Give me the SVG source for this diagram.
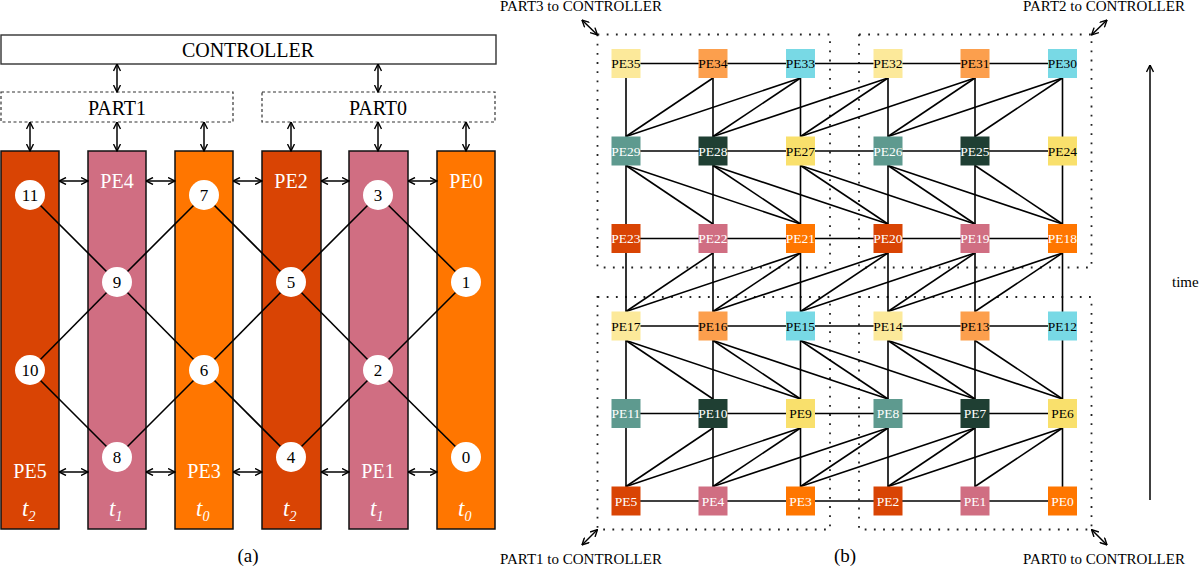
<svg xmlns="http://www.w3.org/2000/svg" width="1200" height="568" viewBox="0 0 1200 568" font-family="'Liberation Serif', 'Times New Roman', serif">
<style>
text{font-family:"Liberation Serif","Times New Roman",serif}
.ln{stroke:#000;stroke-width:1.6;fill:none}
.ar{stroke:#000;stroke-width:1.5;fill:none;marker-start:url(#ah);marker-end:url(#ah)}
.ar1{stroke:#000;stroke-width:1.5;fill:none;marker-end:url(#ah)}
.col{stroke:#111;stroke-width:1.5}
.c0{fill:#D94404}.c1{fill:#D06E82}.c2{fill:#FF7600}
.pa{fill:#FCE99A}.lo{fill:#FC9F4D}.cy{fill:#78D9E5}
.te{fill:#5E9A8F}.dg{fill:#1F3F33}.ye{fill:#F9E06C}
.rd{fill:#D94404}.pk{fill:#D06E82}.og{fill:#FF7600}
.nt{font-size:13.5px;text-anchor:middle}
.tb{fill:#000}.tw{fill:#fff}
.big{font-size:20px;text-anchor:middle}
.num{font-size:17px;text-anchor:middle;fill:#000}
.tl{font-size:23px;font-style:italic;fill:#fff}
.ts{font-size:14px;font-style:italic;fill:#fff}
.lab{font-size:15px;fill:#000}
.cap{font-size:19px;fill:#000;text-anchor:middle}
.part{fill:none;stroke:#222;stroke-width:1.8;stroke-dasharray:1.8 7.4}
</style>
<defs>
<marker id="ah" viewBox="0 0 8 8" refX="7.5" refY="4" markerWidth="8" markerHeight="8" markerUnits="userSpaceOnUse" orient="auto-start-reverse">
<path d="M0.5,0.5 L7.5,4 L0.5,7.5" fill="none" stroke="#000" stroke-width="1.4"/>
</marker>
</defs>
<rect width="1200" height="568" fill="#fff"/>

<!-- ===== Panel (a) ===== -->
<g id="controller">
<rect x="1" y="35" width="495" height="29" fill="#fff" stroke="#333" stroke-width="1.4"/>
<text class="big" x="248" y="57">CONTROLLER</text>
</g>
<g id="part1">
<rect x="1" y="92" width="232" height="30" fill="#fff" stroke="#333" stroke-width="1.2" stroke-dasharray="3 2.5"/>
<text class="big" x="117" y="115">PART1</text>
</g>
<g id="part0">
<rect x="262" y="92" width="233" height="30" fill="#fff" stroke="#333" stroke-width="1.2" stroke-dasharray="3 2.5"/>
<text class="big" x="378" y="115">PART0</text>
</g>

<g id="columns">
<g id="colPE5"><rect class="col c0" x="1" y="151" width="58" height="378"/><text class="big" x="30" y="478" fill="#fff">PE5</text><text x="22" y="516"><tspan class="tl">t</tspan><tspan class="ts" dy="5">2</tspan></text></g>
<g id="colPE4"><rect class="col c1" x="88" y="151" width="58" height="378"/><text class="big" x="117" y="188" fill="#fff">PE4</text><text x="109" y="516"><tspan class="tl">t</tspan><tspan class="ts" dy="5">1</tspan></text></g>
<g id="colPE3"><rect class="col c2" x="175" y="151" width="58" height="378"/><text class="big" x="204" y="478" fill="#fff">PE3</text><text x="196" y="516"><tspan class="tl">t</tspan><tspan class="ts" dy="5">0</tspan></text></g>
<g id="colPE2"><rect class="col c0" x="262" y="151" width="59" height="378"/><text class="big" x="291" y="188" fill="#fff">PE2</text><text x="283" y="516"><tspan class="tl">t</tspan><tspan class="ts" dy="5">2</tspan></text></g>
<g id="colPE1"><rect class="col c1" x="349" y="151" width="59" height="378"/><text class="big" x="378" y="478" fill="#fff">PE1</text><text x="370" y="516"><tspan class="tl">t</tspan><tspan class="ts" dy="5">1</tspan></text></g>
<g id="colPE0"><rect class="col c2" x="437" y="151" width="58" height="378"/><text class="big" x="466" y="188" fill="#fff">PE0</text><text x="458" y="516"><tspan class="tl">t</tspan><tspan class="ts" dy="5">0</tspan></text></g>
</g>

<g id="connectors-a">
<line class="ar" x1="117" y1="64" x2="117" y2="92"/>
<line class="ar" x1="378" y1="64" x2="378" y2="92"/>
<line class="ar" x1="30" y1="122" x2="30" y2="151"/>
<line class="ar" x1="117" y1="122" x2="117" y2="151"/>
<line class="ar" x1="204" y1="122" x2="204" y2="151"/>
<line class="ar" x1="291" y1="122" x2="291" y2="151"/>
<line class="ar" x1="378" y1="122" x2="378" y2="151"/>
<line class="ar" x1="466" y1="122" x2="466" y2="151"/>
<line class="ar" x1="59" y1="181" x2="88" y2="181"/>
<line class="ar" x1="146" y1="181" x2="175" y2="181"/>
<line class="ar" x1="233" y1="181" x2="262" y2="181"/>
<line class="ar" x1="321" y1="181" x2="349" y2="181"/>
<line class="ar" x1="408" y1="181" x2="437" y2="181"/>
<line class="ar" x1="59" y1="472" x2="88" y2="472"/>
<line class="ar" x1="146" y1="472" x2="175" y2="472"/>
<line class="ar" x1="233" y1="472" x2="262" y2="472"/>
<line class="ar" x1="321" y1="472" x2="349" y2="472"/>
<line class="ar" x1="408" y1="472" x2="437" y2="472"/>
<line class="ln" x1="30" y1="195" x2="117" y2="282"/>
<line class="ln" x1="117" y1="282" x2="204" y2="195"/>
<line class="ln" x1="117" y1="282" x2="30" y2="370"/>
<line class="ln" x1="117" y1="282" x2="204" y2="370"/>
<line class="ln" x1="204" y1="195" x2="291" y2="282"/>
<line class="ln" x1="291" y1="282" x2="378" y2="195"/>
<line class="ln" x1="291" y1="282" x2="204" y2="370"/>
<line class="ln" x1="291" y1="282" x2="378" y2="370"/>
<line class="ln" x1="378" y1="195" x2="466" y2="282"/>
<line class="ln" x1="466" y1="282" x2="378" y2="370"/>
<line class="ln" x1="30" y1="370" x2="117" y2="457"/>
<line class="ln" x1="117" y1="457" x2="204" y2="370"/>
<line class="ln" x1="204" y1="370" x2="291" y2="457"/>
<line class="ln" x1="291" y1="457" x2="378" y2="370"/>
<line class="ln" x1="378" y1="370" x2="466" y2="457"/>
</g>

<g id="tasks">
<g id="t11"><circle cx="30" cy="195" r="15" fill="#fff"/><text class="num" x="30" y="201">11</text></g>
<g id="t7"><circle cx="204" cy="195" r="15" fill="#fff"/><text class="num" x="204" y="201">7</text></g>
<g id="t3"><circle cx="378" cy="195" r="15" fill="#fff"/><text class="num" x="378" y="201">3</text></g>
<g id="t9"><circle cx="117" cy="282" r="15" fill="#fff"/><text class="num" x="117" y="288">9</text></g>
<g id="t5"><circle cx="291" cy="282" r="15" fill="#fff"/><text class="num" x="291" y="288">5</text></g>
<g id="t1"><circle cx="466" cy="282" r="15" fill="#fff"/><text class="num" x="466" y="288">1</text></g>
<g id="t10"><circle cx="30" cy="370" r="15" fill="#fff"/><text class="num" x="30" y="376">10</text></g>
<g id="t6"><circle cx="204" cy="370" r="15" fill="#fff"/><text class="num" x="204" y="376">6</text></g>
<g id="t2"><circle cx="378" cy="370" r="15" fill="#fff"/><text class="num" x="378" y="376">2</text></g>
<g id="t8"><circle cx="117" cy="457" r="15" fill="#fff"/><text class="num" x="117" y="463">8</text></g>
<g id="t4"><circle cx="291" cy="457" r="15" fill="#fff"/><text class="num" x="291" y="463">4</text></g>
<g id="t0"><circle cx="466" cy="457" r="15" fill="#fff"/><text class="num" x="466" y="463">0</text></g>
</g>
<text class="cap" x="248" y="562">(a)</text>

<!-- ===== Panel (b) ===== -->
<g id="partitions">
<rect class="part" x="597.5" y="34.5" width="232.5" height="233"/>
<rect class="part" x="859" y="34.5" width="232.5" height="233"/>
<rect class="part" x="597.5" y="297" width="232.5" height="232.5"/>
<rect class="part" x="859" y="297" width="232.5" height="232.5"/>
</g>

<g id="connectors-b">
<line class="ln" x1="626" y1="63.5" x2="1062.5" y2="63.5"/>
<line class="ln" x1="626" y1="151" x2="1062.5" y2="151"/>
<line class="ln" x1="626" y1="238.5" x2="1062.5" y2="238.5"/>
<line class="ln" x1="626" y1="326" x2="1062.5" y2="326"/>
<line class="ln" x1="626" y1="413.5" x2="1062.5" y2="413.5"/>
<line class="ln" x1="626" y1="501" x2="1062.5" y2="501"/>
<line class="ln" x1="626" y1="63.5" x2="626" y2="501"/>
<line class="ln" x1="713" y1="63.5" x2="713" y2="501"/>
<line class="ln" x1="800.5" y1="63.5" x2="800.5" y2="501"/>
<line class="ln" x1="888" y1="63.5" x2="888" y2="501"/>
<line class="ln" x1="975" y1="63.5" x2="975" y2="501"/>
<line class="ln" x1="1062.5" y1="63.5" x2="1062.5" y2="501"/>
<line class="ln" x1="626" y1="136.5" x2="713" y2="78"/>
<line class="ln" x1="626" y1="136.5" x2="800.5" y2="78"/>
<line class="ln" x1="713" y1="136.5" x2="800.5" y2="78"/>
<line class="ln" x1="713" y1="136.5" x2="888" y2="78"/>
<line class="ln" x1="800.5" y1="136.5" x2="888" y2="78"/>
<line class="ln" x1="800.5" y1="136.5" x2="975" y2="78"/>
<line class="ln" x1="888" y1="136.5" x2="975" y2="78"/>
<line class="ln" x1="888" y1="136.5" x2="1062.5" y2="78"/>
<line class="ln" x1="975" y1="136.5" x2="1062.5" y2="78"/>
<line class="ln" x1="626" y1="165.5" x2="713" y2="224"/>
<line class="ln" x1="626" y1="165.5" x2="800.5" y2="224"/>
<line class="ln" x1="713" y1="165.5" x2="800.5" y2="224"/>
<line class="ln" x1="713" y1="165.5" x2="888" y2="224"/>
<line class="ln" x1="800.5" y1="165.5" x2="888" y2="224"/>
<line class="ln" x1="800.5" y1="165.5" x2="975" y2="224"/>
<line class="ln" x1="888" y1="165.5" x2="975" y2="224"/>
<line class="ln" x1="888" y1="165.5" x2="1062.5" y2="224"/>
<line class="ln" x1="975" y1="165.5" x2="1062.5" y2="224"/>
<line class="ln" x1="626" y1="311.5" x2="713" y2="253"/>
<line class="ln" x1="626" y1="311.5" x2="800.5" y2="253"/>
<line class="ln" x1="713" y1="311.5" x2="800.5" y2="253"/>
<line class="ln" x1="713" y1="311.5" x2="888" y2="253"/>
<line class="ln" x1="800.5" y1="311.5" x2="888" y2="253"/>
<line class="ln" x1="800.5" y1="311.5" x2="975" y2="253"/>
<line class="ln" x1="888" y1="311.5" x2="975" y2="253"/>
<line class="ln" x1="888" y1="311.5" x2="1062.5" y2="253"/>
<line class="ln" x1="975" y1="311.5" x2="1062.5" y2="253"/>
<line class="ln" x1="626" y1="340.5" x2="713" y2="399"/>
<line class="ln" x1="626" y1="340.5" x2="800.5" y2="399"/>
<line class="ln" x1="713" y1="340.5" x2="800.5" y2="399"/>
<line class="ln" x1="713" y1="340.5" x2="888" y2="399"/>
<line class="ln" x1="800.5" y1="340.5" x2="888" y2="399"/>
<line class="ln" x1="800.5" y1="340.5" x2="975" y2="399"/>
<line class="ln" x1="888" y1="340.5" x2="975" y2="399"/>
<line class="ln" x1="888" y1="340.5" x2="1062.5" y2="399"/>
<line class="ln" x1="975" y1="340.5" x2="1062.5" y2="399"/>
<line class="ln" x1="626" y1="486.5" x2="713" y2="428"/>
<line class="ln" x1="626" y1="486.5" x2="800.5" y2="428"/>
<line class="ln" x1="713" y1="486.5" x2="800.5" y2="428"/>
<line class="ln" x1="713" y1="486.5" x2="888" y2="428"/>
<line class="ln" x1="800.5" y1="486.5" x2="888" y2="428"/>
<line class="ln" x1="800.5" y1="486.5" x2="975" y2="428"/>
<line class="ln" x1="888" y1="486.5" x2="975" y2="428"/>
<line class="ln" x1="888" y1="486.5" x2="1062.5" y2="428"/>
<line class="ln" x1="975" y1="486.5" x2="1062.5" y2="428"/>
<line class="ar" x1="582" y1="20" x2="597.5" y2="35"/>
<line class="ar" x1="1091.5" y1="35" x2="1107" y2="20"/>
<line class="ar" x1="597.5" y1="529.5" x2="582" y2="545"/>
<line class="ar" x1="1091.5" y1="529.5" x2="1107" y2="545"/>
<line class="ar1" x1="1150" y1="500" x2="1150" y2="65"/>
</g>

<g id="nodes">
<g id="PE35"><rect class="pa" x="611.5" y="49" width="29" height="29"/><text class="nt tb" x="626" y="68">PE35</text></g>
<g id="PE34"><rect class="lo" x="698.5" y="49" width="29" height="29"/><text class="nt tb" x="713" y="68">PE34</text></g>
<g id="PE33"><rect class="cy" x="786" y="49" width="29" height="29"/><text class="nt tb" x="800.5" y="68">PE33</text></g>
<g id="PE32"><rect class="pa" x="873.5" y="49" width="29" height="29"/><text class="nt tb" x="888" y="68">PE32</text></g>
<g id="PE31"><rect class="lo" x="960.5" y="49" width="29" height="29"/><text class="nt tb" x="975" y="68">PE31</text></g>
<g id="PE30"><rect class="cy" x="1048" y="49" width="29" height="29"/><text class="nt tb" x="1062.5" y="68">PE30</text></g>

<g id="PE29"><rect class="te" x="611.5" y="136.5" width="29" height="29"/><text class="nt tw" x="626" y="155.5">PE29</text></g>
<g id="PE28"><rect class="dg" x="698.5" y="136.5" width="29" height="29"/><text class="nt tw" x="713" y="155.5">PE28</text></g>
<g id="PE27"><rect class="ye" x="786" y="136.5" width="29" height="29"/><text class="nt tb" x="800.5" y="155.5">PE27</text></g>
<g id="PE26"><rect class="te" x="873.5" y="136.5" width="29" height="29"/><text class="nt tw" x="888" y="155.5">PE26</text></g>
<g id="PE25"><rect class="dg" x="960.5" y="136.5" width="29" height="29"/><text class="nt tw" x="975" y="155.5">PE25</text></g>
<g id="PE24"><rect class="ye" x="1048" y="136.5" width="29" height="29"/><text class="nt tb" x="1062.5" y="155.5">PE24</text></g>

<g id="PE23"><rect class="rd" x="611.5" y="224" width="29" height="29"/><text class="nt tw" x="626" y="243">PE23</text></g>
<g id="PE22"><rect class="pk" x="698.5" y="224" width="29" height="29"/><text class="nt tw" x="713" y="243">PE22</text></g>
<g id="PE21"><rect class="og" x="786" y="224" width="29" height="29"/><text class="nt tw" x="800.5" y="243">PE21</text></g>
<g id="PE20"><rect class="rd" x="873.5" y="224" width="29" height="29"/><text class="nt tw" x="888" y="243">PE20</text></g>
<g id="PE19"><rect class="pk" x="960.5" y="224" width="29" height="29"/><text class="nt tw" x="975" y="243">PE19</text></g>
<g id="PE18"><rect class="og" x="1048" y="224" width="29" height="29"/><text class="nt tw" x="1062.5" y="243">PE18</text></g>

<g id="PE17"><rect class="pa" x="611.5" y="311.5" width="29" height="29"/><text class="nt tb" x="626" y="330.5">PE17</text></g>
<g id="PE16"><rect class="lo" x="698.5" y="311.5" width="29" height="29"/><text class="nt tb" x="713" y="330.5">PE16</text></g>
<g id="PE15"><rect class="cy" x="786" y="311.5" width="29" height="29"/><text class="nt tb" x="800.5" y="330.5">PE15</text></g>
<g id="PE14"><rect class="pa" x="873.5" y="311.5" width="29" height="29"/><text class="nt tb" x="888" y="330.5">PE14</text></g>
<g id="PE13"><rect class="lo" x="960.5" y="311.5" width="29" height="29"/><text class="nt tb" x="975" y="330.5">PE13</text></g>
<g id="PE12"><rect class="cy" x="1048" y="311.5" width="29" height="29"/><text class="nt tb" x="1062.5" y="330.5">PE12</text></g>

<g id="PE11"><rect class="te" x="611.5" y="399" width="29" height="29"/><text class="nt tw" x="626" y="418">PE11</text></g>
<g id="PE10"><rect class="dg" x="698.5" y="399" width="29" height="29"/><text class="nt tw" x="713" y="418">PE10</text></g>
<g id="PE9"><rect class="ye" x="786" y="399" width="29" height="29"/><text class="nt tb" x="800.5" y="418">PE9</text></g>
<g id="PE8"><rect class="te" x="873.5" y="399" width="29" height="29"/><text class="nt tw" x="888" y="418">PE8</text></g>
<g id="PE7"><rect class="dg" x="960.5" y="399" width="29" height="29"/><text class="nt tw" x="975" y="418">PE7</text></g>
<g id="PE6"><rect class="ye" x="1048" y="399" width="29" height="29"/><text class="nt tb" x="1062.5" y="418">PE6</text></g>

<g id="PE5"><rect class="rd" x="611.5" y="486.5" width="29" height="29"/><text class="nt tw" x="626" y="505.5">PE5</text></g>
<g id="PE4"><rect class="pk" x="698.5" y="486.5" width="29" height="29"/><text class="nt tw" x="713" y="505.5">PE4</text></g>
<g id="PE3"><rect class="og" x="786" y="486.5" width="29" height="29"/><text class="nt tw" x="800.5" y="505.5">PE3</text></g>
<g id="PE2"><rect class="rd" x="873.5" y="486.5" width="29" height="29"/><text class="nt tw" x="888" y="505.5">PE2</text></g>
<g id="PE1"><rect class="pk" x="960.5" y="486.5" width="29" height="29"/><text class="nt tw" x="975" y="505.5">PE1</text></g>
<g id="PE0"><rect class="og" x="1048" y="486.5" width="29" height="29"/><text class="nt tw" x="1062.5" y="505.5">PE0</text></g>
</g>

<g id="labels-b">
<text class="lab" x="500" y="11">PART3 to CONTROLLER</text>
<text class="lab" x="1023" y="11">PART2 to CONTROLLER</text>
<text class="lab" x="500" y="564">PART1 to CONTROLLER</text>
<text class="lab" x="1023" y="564">PART0 to CONTROLLER</text>
<text class="lab" x="1172" y="287">time</text>
<text class="cap" x="845" y="562">(b)</text>
</g>
</svg>
